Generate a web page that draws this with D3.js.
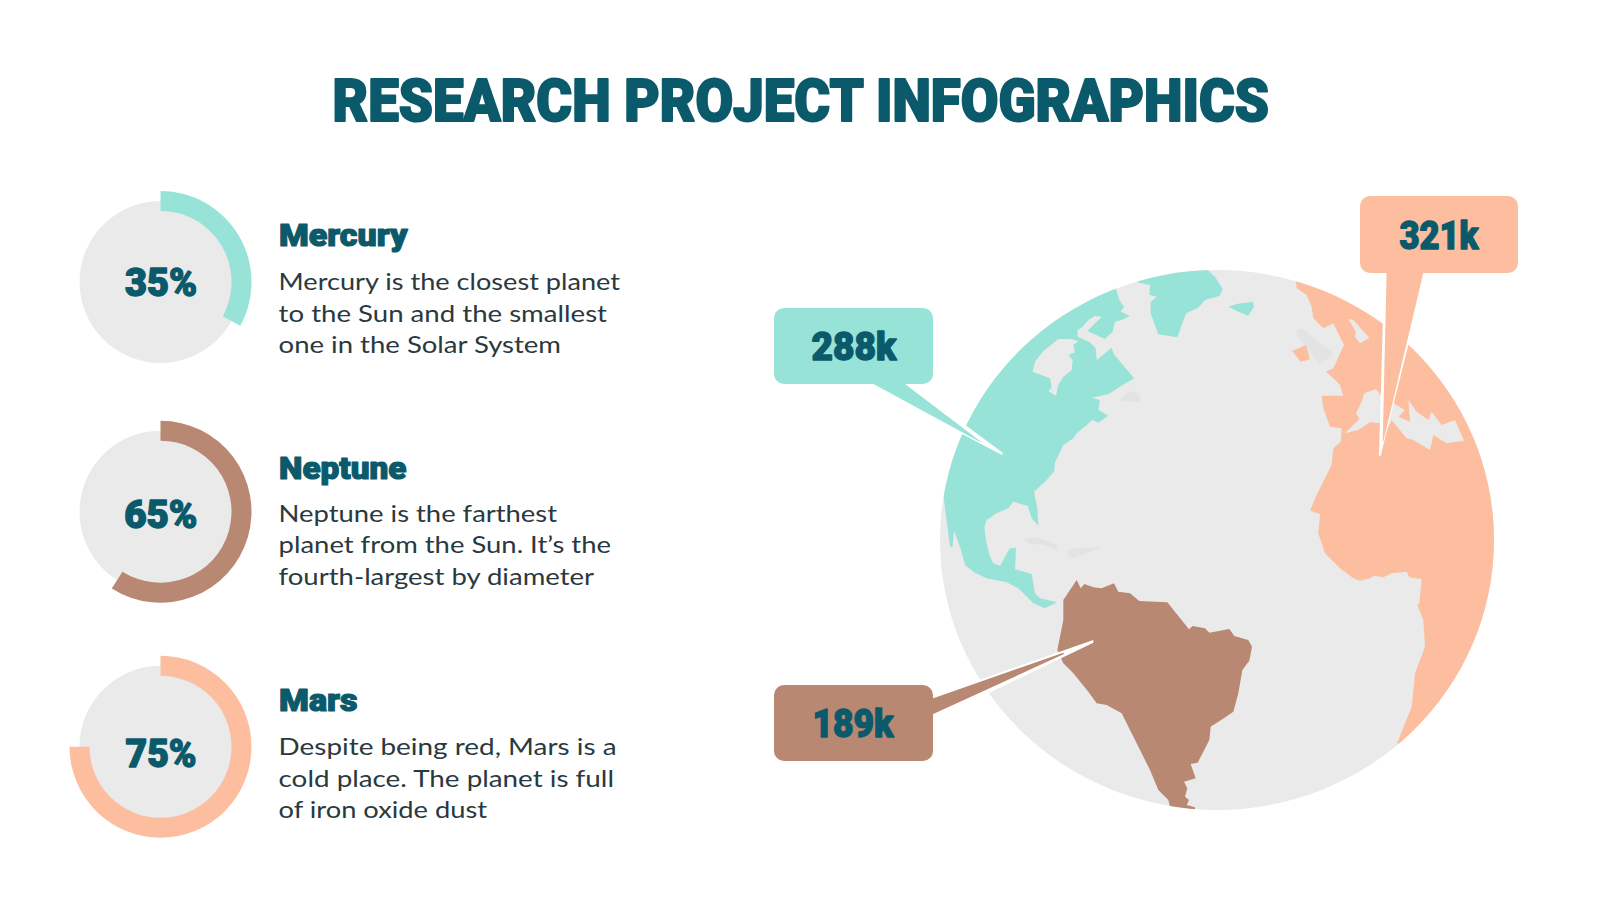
<!DOCTYPE html>
<html><head><meta charset="utf-8">
<style>html,body{margin:0;padding:0;background:#fff}svg{display:block}</style>
<script src="https://cdn.jsdelivr.net/npm/d3@7"></script>
</head><body><svg id="c" width="1600" height="900"></svg>
<script>
// ---------- values ----------
const titleText = "RESEARCH PROJECT INFOGRAPHICS";
const planets = ["Mercury","Neptune","Mars"];
const percentLabels = ["35%","65%","75%"];
const arcShares = [33,59,75];           // share of the ring actually drawn
const planetColors = ["#98e3d7","#b88873","#fdbe9f"];
const descriptions = [
 ["Mercury is the closest planet","to the Sun and the smallest","one in the Solar System"],
 ["Neptune is the farthest","planet from the Sun. It\u2019s the","fourth-largest by diameter"],
 ["Despite being red, Mars is a","cold place. The planet is full","of iron oxide dust"]];
const calloutLabels = ["288k","321k","189k"];

// ---------- map outlines (each sheet has its own origin, units are 1/3 px) ----------
const naTop = [[558,72],[568,105],[582,125],[572,140],[600,153],[575,165],[555,170],[548,200],[524,222],[472,198],[498,172],[515,155],[495,153],[475,165],[458,185],[443,195],[442,215],[480,232],[497,250],[500,285],[545,248],[552,268],[612,340],[570,365],[535,388],[485,398],[510,405],[505,435],[535,452],[505,473],[487,465],[470,480],[440,505],[432,518],[400,540],[375,593]];
const naBottom = [[372,95],[345,125],[312,155],[322,205],[325,258],[305,235],[293,198],[250,185],[235,205],[200,220],[170,240],[163,260],[168,300],[178,345],[190,370],[210,377],[225,350],[240,325],[258,323],[255,388],[305,402],[315,460],[330,475],[382,487],[345,505],[310,490],[285,465],[265,445],[230,427],[170,415],[135,398],[105,375],[90,320],[72,272],[68,320],[60,320],[40,165],[-30,125],[-30,-525],[558,-525]];
const hudson = [[445,228],[420,222],[385,222],[340,258],[315,290],[308,320],[360,340],[365,368],[355,378],[378,392],[385,360],[400,335],[425,315],[428,285],[415,270],[435,262],[430,240]];
const greenland = [[622,52],[660,60],[658,90],[680,95],[662,110],[662,145],[685,208],[742,217],[768,145],[805,128],[825,105],[870,92],[878,72],[855,35],[830,12],[700,-10],[622,30]];
const iceland = [[895,125],[920,117],[968,110],[972,125],[955,152],[925,140]];
const faintAtlantic = [[570,405],[595,378],[625,385],[635,412],[600,410]];
const faintCuba = [[278,823],[310,815],[345,825],[382,840],[380,855],[340,840],[300,837]];
const faintHispaniola = [[410,855],[440,850],[515,847],[470,865],[430,880],[415,870]];
const eurasiaTop = [[78,0],[78,48],[80,70],[110,90],[125,125],[130,160],[160,190],[190,175],[222,240],[190,310],[168,320],[190,340],[210,360],[220,392],[155,392],[160,430],[180,485],[215,490],[212,530],[190,550]];
const africa = [[125,45],[105,85],[80,135],[60,182],[90,192],[85,250],[105,310],[150,355],[190,385],[210,392],[240,385],[252,377],[280,382],[305,370],[350,365],[358,382],[395,388],[388,460],[382,465],[400,510],[405,590],[375,670],[365,770],[322,878],[360,930],[700,930],[700,-200]];
const baltic = [[235,162],[250,165],[298,218],[270,235],[255,215],[258,200]];
const mediterranean = [[225,505],[268,462],[258,445],[275,410],[283,385],[318,372],[335,395],[370,415],[405,435],[385,455],[420,470],[415,405],[440,440],[475,465],[485,440],[515,480],[555,465],[582,527],[530,535],[490,510],[480,555],[430,525],[410,520],[385,490],[365,465],[340,520],[330,475],[300,472],[265,495]];
const britain = [[66,258],[108,240],[120,283],[92,290]];
const faintEurope = [[80,195],[95,190],[190,265],[150,300],[80,210]];
const southAmerica = [[110,30],[122,55],[133,42],[160,52],[185,55],[222,40],[235,65],[270,70],[298,93],[382,97],[447,178],[458,168],[495,175],[508,188],[568,177],[583,198],[625,210],[636,230],[628,272],[607,300],[595,370],[580,425],[548,447],[512,470],[508,510],[473,578],[452,582],[467,625],[432,635],[442,655],[435,680],[447,690],[440,705],[465,712],[465,760],[402,760],[385,690],[355,660],[330,600],[300,540],[270,480],[245,430],[200,405],[170,400],[145,365],[100,310],[70,280],[52,240],[70,150],[70,90]];
const tail288White = [[380,311],[489,296],[789,519],[786,525]];
const tail288Fill  = [[388,305],[486,305],[725,487],[722,487]];
const tail321White = [[343,15],[471,15],[332,572],[327,572]];
const tail321Fill  = [[350,15],[462,15],[340,530],[338,530]];
const tail189White = [[505,203],[1000,30],[1000,38],[505,277]];
const tail189Fill  = [[505,210],[910,68],[912,72],[505,259]];

// ---------- layout ----------
const INK="#0b5a6b", BODY="#2a3940", GLOBE="#eaeaea", FAINT="#e3e3e3";
const HEAVY="'Roboto','Lato',sans-serif", TEXT="'Lato','Open Sans',sans-serif";
const sheets = {nw:[930,265], se:[1270,265], af:[1290,450], sa:[1040,570], c1:[740,280], c3:[760,630]};
const pts=(o,a)=>{const x=d3.scaleLinear().domain([0,3]).range([o[0],o[0]+1]),y=d3.scaleLinear().domain([0,3]).range([o[1],o[1]+1]);return a.map(d=>[x(d[0]),y(d[1])]);};
const svg=d3.select("#c");
const raw=d3.line();

// title
function fitted(sel,txt,x,base,size,len,fill,fam,weight,stroke){
  sel.append("text").attr("x",x).attr("y",base).attr("font-family",fam).attr("font-weight",weight)
   .attr("font-size",size).attr("fill",fill).attr("textLength",len).attr("lengthAdjust","spacingAndGlyphs")
   .attr("stroke",stroke?fill:"none").attr("stroke-width",stroke||0).attr("stroke-linejoin","round").text(txt);
}
fitted(svg,titleText,332.5,120.5,59,936.5,INK,HEAVY,900,2);

// rings
const ringY=[282,511.7,746.8], ringX=160.5;
const angle=d3.scaleLinear().domain([0,100]).range([0,2*Math.PI]);
const arc=d3.arc().innerRadius(71).outerRadius(91).startAngle(0);
const headBase=[246.2,478.5,711.2], headLen=[128.5,127.5,78.5];
const pctBase=[295.5,527.8,766.5], pctX=[125,124.2,125.5], pctLen=[72,73.3,71];
const lineBase=[[290,321.7,353],[521.6,553.3,585],[755,786.7,818]];
const lineEnd=[[620,607,561],[557,611,594],[616.5,614,487]];
planets.forEach((p,i)=>{
  const g=svg.append("g");
  g.append("circle").attr("cx",ringX).attr("cy",ringY[i]).attr("r",81).attr("fill",GLOBE);
  g.append("path").attr("transform",`translate(${ringX},${ringY[i]})`).attr("d",arc({endAngle:angle(arcShares[i])})).attr("fill",planetColors[i]);
  fitted(g,percentLabels[i],pctX[i],pctBase[i],39,pctLen[i],INK,HEAVY,900,1.4);
  fitted(g,p,279,headBase[i],32,headLen[i],INK,HEAVY,900,1.2);
  descriptions[i].forEach((t,j)=>fitted(g,t,278.6,lineBase[i][j],23,lineEnd[i][j]-278.6,BODY,TEXT,400));
});

// globe
const globeCx=1217,globeCy=540,globeRx=277,globeRy=270;
svg.append("clipPath").attr("id","gl").append("ellipse").attr("cx",globeCx).attr("cy",globeCy).attr("rx",globeRx).attr("ry",globeRy);
svg.append("ellipse").attr("cx",globeCx).attr("cy",globeCy).attr("rx",globeRx).attr("ry",globeRy).attr("fill",GLOBE);
const land=svg.append("g").attr("clip-path","url(#gl)");
const shape=(coords,fill)=>land.append("path").attr("d",raw(coords)+"Z").attr("fill",fill);
const TEAL=planetColors[0],BROWN=planetColors[1],PEACH=planetColors[2];
const y6=naBottom.map(d=>[d[0],d[1]+525]);
shape(pts(sheets.nw,naTop.concat(y6)),TEAL);
shape(pts(sheets.nw,hudson),GLOBE);
shape(pts(sheets.nw,greenland),TEAL);
shape(pts(sheets.nw,iceland),TEAL);
shape(pts(sheets.nw,faintAtlantic),FAINT);
shape(pts(sheets.nw,faintCuba),FAINT);
shape(pts(sheets.nw,faintHispaniola),FAINT);
shape(pts(sheets.se,eurasiaTop).concat(pts(sheets.af,africa)),PEACH);
shape(pts(sheets.se,baltic),GLOBE);
shape(pts(sheets.se,mediterranean),GLOBE);
shape(pts(sheets.se,faintEurope),FAINT);
shape(pts(sheets.se,britain),PEACH);
shape(pts(sheets.sa,southAmerica),BROWN);

// callouts
const boxes=[[774,308,159,76],[1360,196,158,77],[774,685,159,76]];
const tails=[[sheets.c1,tail288White,tail288Fill,TEAL],[sheets.se,tail321White,tail321Fill,PEACH],[sheets.c3,tail189White,tail189Fill,BROWN]];
const labelPos=[[811.5,359.5,84.7],[1399.5,248.5,79],[812.5,736.8,81]];
calloutLabels.forEach((t,i)=>{
  const g=svg.append("g"),[o,w,f,col]=tails[i],b=boxes[i];
  g.append("path").attr("d",raw(pts(o,w))+"Z").attr("fill","#fff");
  g.append("path").attr("d",raw(pts(o,f))+"Z").attr("fill",col);
  g.append("rect").attr("x",b[0]).attr("y",b[1]).attr("width",b[2]).attr("height",b[3]).attr("rx",10).attr("fill",col);
  fitted(g,t,labelPos[i][0],labelPos[i][1],39,labelPos[i][2],INK,HEAVY,900,1.4);
});
</script></body></html>
